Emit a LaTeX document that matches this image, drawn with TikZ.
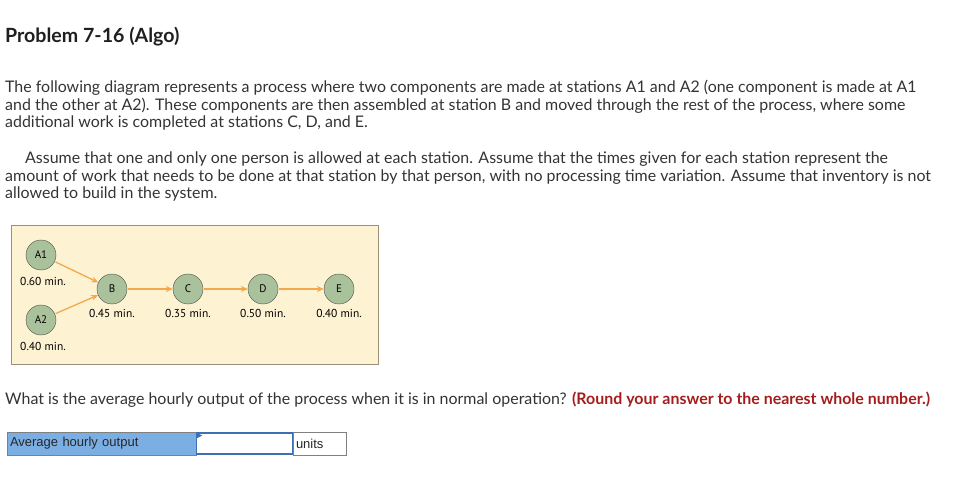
\documentclass[tikz,border=0pt]{standalone}
\usepackage{fontspec}
\setmainfont{Lato}
\newfontfamily\diagfont{PT Sans}
\newfontfamily\formfont{Liberation Sans}
\usetikzlibrary{arrows.meta}

\definecolor{bodytext}{HTML}{333333}
\definecolor{boxfill}{HTML}{FDF3D3}
\definecolor{boxline}{HTML}{9A9178}
\definecolor{stationfill}{HTML}{A9C29C}
\definecolor{flowline}{HTML}{F4A84C}
\definecolor{hintred}{HTML}{A51C1C}
\definecolor{cellblue}{HTML}{7BAFE4}
\definecolor{inputblue}{HTML}{3D6FB3}

\tikzset{
    line/.style={anchor=base west, inner sep=0, text=bodytext, font=\fontsize{15.95}{17}\selectfont},
    station/.style={circle, draw=black!70, fill=stationfill, minimum size=30pt, inner sep=0, font=\diagfont\fontsize{11}{12}\selectfont},
    tlabel/.style={inner sep=0, font=\diagfont\fontsize{11.5}{13}\selectfont},
    flow/.style={-{Stealth[length=7pt, width=6pt]}, draw=flowline, line width=1.3pt, shorten <=1pt},
    cell/.style={draw=gray, minimum height=23pt, inner sep=3pt, font=\formfont\fontsize{13}{14}\selectfont, text=black!85}
}

\begin{document}
\begin{tikzpicture}[x=1pt, y=-1pt]
    \useasboundingbox (0,0) rectangle (962,500);

    % Title
    \node[anchor=base west, inner sep=0, text=black!88, font=\fontsize{19.6}{22}\selectfont\bfseries] (title) at (5,43) {Problem 7-16 (Algo)};

    % Text
    \node[line] (l1) at (5,93) {The following diagram represents a process where two components are made at stations A1 and A2 (one component is made at A1};
    \node[line] (l2) at (5,110.5) {and the other at A2). These components are then assembled at station B and moved through the rest of the process, where some};
    \node[line] (l3) at (5,128) {additional work is completed at stations C, D, and E.};

    \node[line] (l4) at (25,164) {Assume that one and only one person is allowed at each station. Assume that the times given for each station represent the};
    \node[line] (l5) at (5,181.5) {amount of work that needs to be done at that station by that person, with no processing time variation. Assume that inventory is not};
    \node[line] (l6) at (5,199) {allowed to build in the system.};

    % Diagram
    \draw[draw=boxline, fill=boxfill, line width=0.8pt] (11,225) rectangle (378,364);

    \node[station] (A1) at (41,255) {A1};
    \node[station] (A2) at (41,320) {A2};
    \node[station] (B) at (112,289) {B};
    \node[station] (C) at (188,289) {C};
    \node[station] (D) at (263,289) {D};
    \node[station] (E) at (339,289) {E};

    \node[tlabel] (tA1) at (43,281) {0.60 min.};
    \node[tlabel] (tA2) at (43,346) {0.40 min.};
    \node[tlabel] (tB) at (112,313) {0.45 min.};
    \node[tlabel] (tC) at (188,313) {0.35 min.};
    \node[tlabel] (tD) at (263,313) {0.50 min.};
    \node[tlabel] (tE) at (339,313) {0.40 min.};

    % Arrows
    \draw[flow] (A1) -- (B);
    \draw[flow] (A2) -- (B);
    \draw[flow] (B) -- (C);
    \draw[flow] (C) -- (D);
    \draw[flow] (D) -- (E);

    % Question
    \node[line] (q) at (5,404) {What is the average hourly output of the process when it is in normal operation? {\color{hintred}\bfseries (Round your answer to the nearest whole number.)}};

    % Answer row
    \node[cell, fill=cellblue, minimum width=189pt, text width=183pt, align=left] (ansLabel) at (101.5,443.5) {Average hourly output};
    \node[cell, minimum width=53pt, text width=47pt, align=left] (ansUnit) at (319.5,443.5) {units};
    \node[draw=inputblue, fill=white, line width=1.1pt, minimum width=96pt, minimum height=21pt, inner sep=0] (ansBox) at (244.5,443.5) {};
    \fill[inputblue] (ansBox.north west) ++(0.5,0.5) -- ++(6,2.5) -- ++(-6,3) -- cycle;
\end{tikzpicture}
\end{document}
